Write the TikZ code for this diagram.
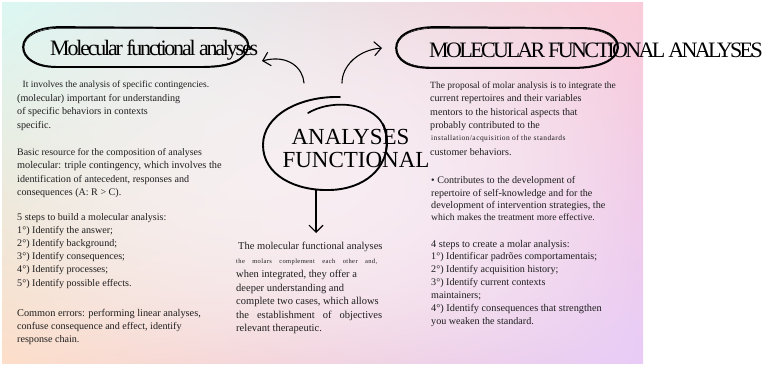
\documentclass[tikz,border=0pt]{standalone}
\usepackage{fontspec}
\setmainfont{Liberation Serif}
\newfontfamily\titlefont[LetterSpace=-10]{Liberation Serif}
\newfontfamily\titlefontB[LetterSpace=-11.8]{Liberation Serif}
\newfontfamily\tinyfont[LetterSpace=6]{Liberation Serif}
\usetikzlibrary{arrows.meta}
\definecolor{ink}{HTML}{1E1E1E}

\pgfdeclarefunctionalshading{bgshade}{\pgfpointorigin}{\pgfpoint{100bp}{100bp}}{}{
25 sub 50 div exch 25 sub 50 div exch
1 index dup 1 exch sub mul 1 index dup 1 exch sub mul mul 16 mul 0.5 mul
2 index -0.08 mul 2 index -0.13 mul add 3 index 3 index mul 0.20 mul add 0.99 add dup 1 exch sub 2 index mul add
3 index -0.07 mul 3 index 0.10 mul add 4 index 4 index mul -0.10 mul add 0.87 add dup 1 exch sub 3 index mul add
4 index 0.18 mul 4 index 0.16 mul add 5 index 5 index mul -0.28 mul add 0.79 add dup 1 exch sub 4 index mul add
6 3 roll pop pop pop
}

\tikzset{
  txt/.style={anchor=base west, inner sep=0pt, text=ink, font=\fontsize{10.1}{12}\selectfont},
  ctxt/.style={anchor=base west, inner sep=0pt, text=ink, font=\fontsize{10.5}{12}\selectfont},
  sketch/.style={draw=black, line width=1.7pt, line cap=round, line join=round},
  sketchthin/.style={draw=black, line width=0.6pt, line cap=round, line join=round},
  arr/.style={draw=black, line width=1.1pt, line cap=round, -{Straight Barb[length=7pt,width=14pt]}},
}

\begin{document}
\begin{tikzpicture}[x=1pt,y=-1pt]
\useasboundingbox (0,0) rectangle (768,375);
\fill[white] (0,0) rectangle (768,375);
\shade[shading=bgshade] (2,2) rectangle (643,363);

% left oval
\path[sketch] (60,27) -- (215,28) .. controls (240,29) and (250,38) .. (248,47) .. controls (246,60) and (230,67) .. (205,67) -- (55,67) .. controls (35,67) and (23,58) .. (23,47) .. controls (23,35) and (38,27) .. (60,27);
\path[sketchthin] (62,28.2) -- (213,28.6) .. controls (238,29.8) and (249,38.5) .. (247.3,47.5) .. controls (245.5,59.5) and (229,66.2) .. (204,66.3) -- (56,66.3) .. controls (36,66.2) and (24,57.5) .. (24,47.2) .. controls (24,36) and (39,28.2) .. (62,28.2);

% right oval
\path[sketch] (435,27) -- (585,28) .. controls (608,29) and (619,38) .. (618,48) .. controls (617,60) and (600,68) .. (575,68) -- (430,68) .. controls (408,68) and (396,60) .. (396,48) .. controls (396,36) and (410,27) .. (435,27);
\path[sketchthin] (436,28.2) -- (584,28.9) .. controls (607,30) and (617.6,38.6) .. (617,48.3) .. controls (616,59.5) and (599,67.2) .. (574,67.2) -- (431,67.1) .. controls (409,67) and (397,59.5) .. (397,48) .. controls (397,36.5) and (411,28.2) .. (436,28.2);

% titles
\node[anchor=base west, inner sep=0pt, text=black, font=\titlefont\fontsize{22}{22}\selectfont] (tl) at (50,55) {Molecular functional analyses};
\node[anchor=base west, inner sep=0pt, text=black, font=\titlefontB\fontsize{22}{22}\selectfont] (tr) at (429,57) {MOLECULAR FUNCTIONAL ANALYSES};

% center circle
\path[sketch, line width=1.9pt] (340,97) .. controls (300,96) and (263,115) .. (263,145) .. controls (263,175) and (295,191) .. (330,190) .. controls (365,189) and (388,168) .. (387,140) .. controls (386,133) and (385,128) .. (383,124);
\path[sketch, line width=1.7pt] (308,113) .. controls (330,100) and (365,102) .. (380,120) .. controls (386,128) and (388,140) .. (386,150);
\node[anchor=base, inner sep=0pt, text=black, font=\fontsize{23}{23}\selectfont] (c1) at (350.5,144) {ANALYSES};
\node[anchor=base, inner sep=0pt, text=black, font=\fontsize{23}{23}\selectfont] (c2) at (356,167) {FUNCTIONAL};

% connectors
\coordinate (cb) at (316,190);
\coordinate (mt) at (316,233);
\coordinate (las) at (304,83);
\coordinate (lae) at (262,61);
\coordinate (ras) at (342,83);
\coordinate (rae) at (382,48);
\draw[arr] (cb) -- (mt);
\draw[arr] (las) .. controls (303,68) and (288,54) .. (lae);
\draw[arr] (ras) .. controls (342,66) and (358,50) .. (rae);

% left column
\node[txt, font=\fontsize{9.5}{12}\selectfont] (a1) at (22.5,87.5) {It involves the analysis of specific contingencies.};
\node[txt] (a2) at (17,101.2) {(molecular) important for understanding};
\node[txt] (a3) at (17,114.9) {of specific behaviors in contexts};
\node[txt] (a4) at (17,128.6) {specific.};
\node[txt, font=\fontsize{9.9}{12}\selectfont] (b1) at (17,155.5) {Basic resource for the composition of analyses};
\node[txt, font=\fontsize{10.3}{12}\selectfont] (b2) at (17,168.9) {molecular: triple contingency, which involves the};
\node[txt] (b3) at (17,182.3) {identification of antecedent, responses and};
\node[txt] (b4) at (17,195.7) {consequences (A: R > C).};
\node[txt] (s0) at (17,220.5) {5 steps to build a molecular analysis:};
\node[txt] (s1) at (17,233.6) {1°) Identify the answer;};
\node[txt] (s2) at (17,246.7) {2°) Identify background;};
\node[txt] (s3) at (17,259.8) {3°) Identify consequences;};
\node[txt] (s4) at (17,272.9) {4°) Identify processes;};
\node[txt] (s5) at (17,286) {5°) Identify possible effects.};
\node[txt, font=\fontsize{10.3}{12}\selectfont] (e1) at (17,316.5) {Common errors: performing linear analyses,};
\node[txt] (e2) at (17,329.5) {confuse consequence and effect, identify};
\node[txt] (e3) at (17,342.5) {response chain.};

% right column
\node[txt, font=\fontsize{9.5}{12}\selectfont] (r1) at (430,88.5) {The proposal of molar analysis is to integrate the};
\node[txt] (r2) at (430,101.5) {current repertoires and their variables};
\node[txt] (r3) at (430,115.5) {mentors to the historical aspects that};
\node[txt] (r4) at (430,128.5) {probably contributed to the};
\node[anchor=base west, inner sep=0pt, text=ink, font=\tinyfont\fontsize{7.5}{8}\selectfont] (r5) at (431,140) {installation/acquisition of the standards};
\node[txt] (r6) at (430,155.5) {customer behaviors.};
\node[txt] (q1) at (431,183.5) {• Contributes to the development of};
\node[txt] (q2) at (431,196.5) {repertoire of self-knowledge and for the};
\node[txt, font=\fontsize{10.2}{12}\selectfont] (q3) at (431,208.5) {development of intervention strategies, the};
\node[txt, font=\fontsize{9.6}{12}\selectfont] (q4) at (431,220.5) {which makes the treatment more effective.};
\node[txt, font=\fontsize{10.3}{12}\selectfont] (m0) at (431,247.5) {4 steps to create a molar analysis:};
\node[txt] (m1) at (431,259.5) {1°) Identificar padrões comportamentais;};
\node[txt] (m2) at (431,272.5) {2°) Identify acquisition history;};
\node[txt] (m3) at (431,285.5) {3°) Identify current contexts};
\node[txt] (m4) at (431,298.5) {maintainers;};
\node[txt, font=\fontsize{10.3}{12}\selectfont] (m5) at (431,311.5) {4°) Identify consequences that strengthen};
\node[txt] (m6) at (431,324.5) {you weaken the standard.};

% center column
\node[ctxt] (k1) at (238,249.5) {The molecular functional analyses};
\node[anchor=base west, inner sep=0pt, text=ink, font=\tinyfont\fontsize{6.5}{7}\selectfont] (k2) at (236,263) {\makebox[141pt][s]{the molars complement each other and,}};
\node[ctxt] (k3) at (236,277.5) {when integrated, they offer a};
\node[ctxt] (k4) at (236,291.5) {deeper understanding and};
\node[ctxt] (k5) at (236,304.5) {complete two cases, which allows};
\node[ctxt] (k6) at (236,318.5) {\makebox[146pt][s]{the establishment of objectives}};
\node[ctxt] (k7) at (236,331.5) {relevant therapeutic.};
\end{tikzpicture}
\end{document}
